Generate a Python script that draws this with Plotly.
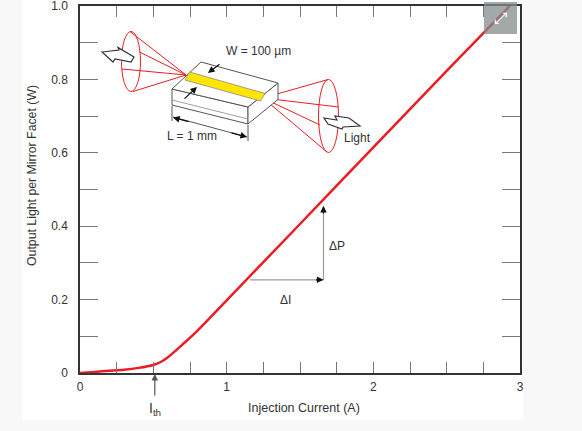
import plotly.graph_objects as go

# L-I curve of a broad-area laser diode
current_A = [0, 0.1, 0.2, 0.3, 0.4, 0.5, 0.55, 0.6, 0.65, 0.7, 0.8, 1.0, 1.5, 2.0, 2.5, 2.93]
power_W = [0, 0.003, 0.006, 0.009, 0.014, 0.022, 0.030, 0.043, 0.060, 0.078, 0.115, 0.198, 0.406, 0.615, 0.823, 1.0]

x_ticks = [i * 0.25 for i in range(13)]
x_ticktext = ['0', '', '', '', '1', '', '', '', '2', '', '', '', '3']
y_ticks = [i * 0.1 for i in range(11)]
y_ticktext = ['0', '', '0.2', '', '0.4', '', '0.6', '', '0.8', '', '1.0']

ith_A = 0.51
dI_start, dI_end, dI_level = 1.16, 1.66, 0.254
dP_top = 0.455

RED = '#ec1c24'
INK = '#333333'
FONT = 'Liberation Sans'

# plot area in pixels of the 582x431 frame
L, R, T, B = 80, 520, 6, 373


def pp(x, y):
    # pixel -> paper coords
    return (x - L) / (R - L), (B - y) / (B - T)


def path(pts, close=True):
    s = ''
    for i, (x, y) in enumerate(pts):
        px_, py_ = pp(x, y)
        s += ('M' if i == 0 else 'L') + f'{px_:.4f},{py_:.4f} '
    return s + ('Z' if close else '')


def line(x0, y0, x1, y1, color=RED, width=1):
    a, b = pp(x0, y0)
    c, d = pp(x1, y1)
    return dict(type='line', xref='paper', yref='paper', x0=a, y0=b, x1=c, y1=d,
                line=dict(color=color, width=width))


def ellipse(cx, cy, rx, ry):
    a, b = pp(cx - rx, cy + ry)
    c, d = pp(cx + rx, cy - ry)
    return dict(type='circle', xref='paper', yref='paper', x0=a, y0=b, x1=c, y1=d,
                line=dict(color=RED, width=1))


fig = go.Figure()
fig.add_trace(go.Scatter(x=current_A, y=power_W, mode='lines',
                         line=dict(color=RED, width=2.5, shape='spline', smoothing=0.6),
                         hoverinfo='skip', showlegend=False))

shapes = []
# white panel behind the figure
a, b = pp(22, 420)
c, d = pp(523, 0)
shapes.append(dict(type='rect', xref='paper', yref='paper', x0=a, y0=b, x1=c, y1=d,
                   fillcolor='white', line=dict(width=0), layer='below'))

# left cone
apexL = (186, 75)
shapes.append(ellipse(131, 61.5, 9.5, 30))
for (x, y) in [(130, 31.5), (139.5, 52), (122, 69), (133, 91.5)]:
    shapes.append(line(apexL[0], apexL[1], x, y))
# right cone
apexR = (263, 98)
shapes.append(ellipse(328.5, 116, 10, 36.5))
for (x, y) in [(328, 79.5), (338.5, 107), (320, 125), (327, 152)]:
    shapes.append(line(apexR[0], apexR[1], x, y))

# chip
GRAY = '#555555'
shapes.append(dict(type='path', xref='paper', yref='paper',
                   path=path([(172, 89), (248, 107), (248, 124), (172, 105)]),
                   fillcolor='white', line=dict(color=GRAY, width=1)))
shapes.append(dict(type='path', xref='paper', yref='paper',
                   path=path([(248, 107), (278, 83), (278, 99.5), (248, 124)]),
                   fillcolor='white', line=dict(color=GRAY, width=1)))
shapes.append(dict(type='path', xref='paper', yref='paper',
                   path=path([(172, 89), (201, 62), (278, 83), (248, 107)]),
                   fillcolor='white', line=dict(color=GRAY, width=1)))
shapes.append(line(172, 100, 248, 119, color='#888888', width=0.8))
# active stripe
shapes.append(dict(type='path', xref='paper', yref='paper',
                   path=path([(189.5, 72), (265, 93.5), (260.5, 101), (185, 80)]),
                   fillcolor='#ffe500', line=dict(color='#888888', width=0.8)))
# length dimension
shapes.append(line(172, 106, 172, 121, color=GRAY))
shapes.append(line(248, 125, 248, 141, color=GRAY))
shapes.append(line(173, 117, 247, 137, color=GRAY))

# hollow arrows
shapes.append(dict(type='path', xref='paper', yref='paper',
                   path=path([(102, 52), (119, 50), (118, 47.5), (134, 57), (131, 62), (115, 59),
                              (113, 62)]),
                   fillcolor='white', line=dict(color=INK, width=1.2)))
shapes.append(dict(type='path', xref='paper', yref='paper',
                   path=path([(324, 118), (337, 120), (335, 116), (349, 118), (360, 126),
                              (343, 127), (342, 129), (328, 124)]),
                   fillcolor='white', line=dict(color=INK, width=1.2)))

# delta arrows (gray lines)
shapes.append(dict(type='line', xref='x', yref='y', x0=dI_start, y0=dI_level, x1=dI_end,
                   y1=dI_level, line=dict(color='#999999', width=1.2)))
shapes.append(dict(type='line', xref='x', yref='y', x0=dI_end, y0=dI_level, x1=dI_end,
                   y1=dP_top, line=dict(color='#999999', width=1.2)))

# expand button overlay
a, b = pp(484, 34)
c, d = pp(517, 2)
shapes.append(dict(type='rect', xref='paper', yref='paper', x0=a, y0=b, x1=c, y1=d,
                   fillcolor='rgba(130,140,140,0.75)', line=dict(width=0), layer='above'))

annotations = []


def text(x, y, s, size=12, color=INK, **kw):
    px_, py_ = pp(x, y)
    annotations.append(dict(xref='paper', yref='paper', x=px_, y=py_, text=s, showarrow=False,
                            xanchor='center', yanchor='middle',
                            font=dict(family=FONT, size=size, color=color), **kw))


def head(x0, y0, x1, y1):
    # small black arrow from (x0,y0) to (x1,y1), pixel coords
    a, b = pp(x1, y1)
    annotations.append(dict(xref='paper', yref='paper', x=a, y=b, ax=x0 - x1, ay=y0 - y1,
                            text='', showarrow=True, arrowhead=2, arrowsize=1.1,
                            arrowwidth=1.2, arrowcolor='#111111'))


text(258, 51, 'W = 100 \u00b5m')
text(192, 136, 'L = 1 mm')
text(357, 138, 'Light')
head(221, 63, 208, 73)
head(183, 100, 197, 87)
head(190, 122, 173, 117.5)
head(230, 132.5, 247, 137)

# delta heads and labels
annotations.append(dict(x=dI_end, y=dI_level, ax=-9, ay=0, xref='x', yref='y',
                        text='', showarrow=True, arrowhead=2,
                        arrowsize=1.1, arrowwidth=1.2, arrowcolor='#111111'))
annotations.append(dict(x=dI_end, y=dP_top, ax=0, ay=9, xref='x', yref='y',
                        text='', showarrow=True, arrowhead=2,
                        arrowsize=1.1, arrowwidth=1.2, arrowcolor='#111111'))
annotations.append(dict(x=1.75, y=0.345, xref='x', yref='y', text='\u0394P', showarrow=False,
                        xanchor='center', yanchor='middle',
                        font=dict(family=FONT, size=12, color=INK)))
annotations.append(dict(x=1.40, y=0.199, xref='x', yref='y', text='\u0394I', showarrow=False,
                        xanchor='center', yanchor='middle',
                        font=dict(family=FONT, size=12, color=INK)))

# threshold marker
annotations.append(dict(x=ith_A, y=0, xref='x', yref='y', ax=0, ay=24, text='', showarrow=True,
                        arrowhead=2, arrowsize=1.1, arrowwidth=1.2, arrowcolor='#555555',
                        standoff=1))
text(155, 409, 'I<sub>th</sub>', size=14)

# axis titles
text(304, 408, 'Injection Current (A)', size=12.5)
text(32, 176, 'Output Light per Mirror Facet (W)', size=12.3, textangle=-90)

# expand icon
text(500.5, 18, '\u2922', size=16, color='white')

fig.update_layout(
    width=582, height=431,
    margin=dict(l=L, r=582 - R, t=T, b=431 - B, autoexpand=False),
    paper_bgcolor='#f8f8f8', plot_bgcolor='rgba(0,0,0,0)',
    shapes=shapes, annotations=annotations,
    font=dict(family=FONT, size=12, color=INK),
)
fig.update_xaxes(range=[0, 3], tickvals=x_ticks, ticktext=x_ticktext, ticks='inside', ticklen=11,
                 tickcolor='#777777', showline=True, linecolor='#333333', linewidth=1.5,
                 mirror='ticks', showgrid=False, zeroline=False, fixedrange=True,
                 automargin=False, ticklabelstandoff=2, ticklabeloverflow='allow')
fig.update_yaxes(range=[0, 1], tickvals=y_ticks, ticktext=y_ticktext, ticks='inside', ticklen=18,
                 tickcolor='#777777', showline=True, linecolor='#333333', linewidth=1.5,
                 mirror='ticks', showgrid=False, zeroline=False, fixedrange=True,
                 automargin=False, ticklabelstandoff=8, ticklabeloverflow='allow')

fig.write_html("out.html", config=dict(displayModeBar=False),
               post_script="document.body.style.margin='0';"
                           "document.body.style.background='#f8f8f8';")
